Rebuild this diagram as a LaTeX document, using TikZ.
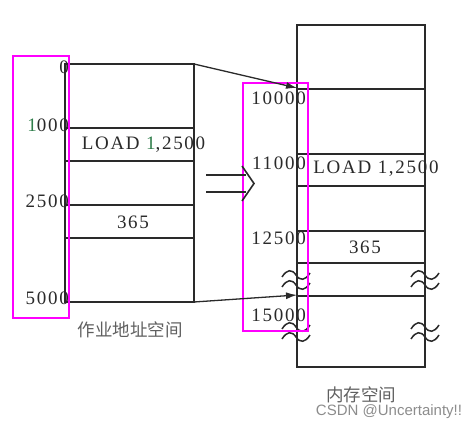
\documentclass[tikz,border=0pt]{standalone}
\usepackage{fontspec}
\setmainfont{Liberation Serif}
\newfontfamily\numfont[LetterSpace=9]{Liberation Serif}
\newfontfamily\cjk{Noto Sans CJK SC}
\newfontfamily\wmfont{Liberation Sans}
\usetikzlibrary{arrows.meta}
\definecolor{ln}{HTML}{2A2A2A}
\definecolor{tx}{HTML}{2A2A2A}
\definecolor{gn}{HTML}{2E7D4A}
\definecolor{mg}{HTML}{FF00FF}
\begin{document}
\begin{tikzpicture}[x=1pt,y=-1pt,
  boxline/.style={draw=ln,line width=1.9pt},
  addr/.style={anchor=east,inner sep=0pt,text=tx,font=\numfont\fontsize{19}{20}\selectfont},
  cell/.style={inner sep=0pt,text=tx,font=\numfont\fontsize{19}{20}\selectfont},
  magbox/.style={draw=mg,line width=1.3pt},
  link/.style={draw=ln,line width=1.3pt,-{Latex[length=11pt,width=7pt]}},
  captext/.style={inner sep=0pt,text=tx!75,font=\cjk\fontsize{17.5}{18}\selectfont},
  squig/.pic={\draw[ln,line width=1.5pt] (-14,2) .. controls (-9,-6) and (-4,-6) .. (0,0) .. controls (4,6) and (9,6) .. (14,-2);}
]
\useasboundingbox (0,0) rectangle (474,428);
% left box (job address space)
\coordinate (LTL) at (65,64);
\coordinate (LTR) at (194,64);
\coordinate (LBL) at (65,302);
\coordinate (LBR) at (194,302);
\draw[boxline] (LTL) rectangle (LBR);
\foreach \y in {128,161,205,238} \draw[boxline] (65,\y) -- (194,\y);
\node[addr] (a0) at (69,67) {0};
\node[addr] (a1000) at (69,125) {\textcolor{gn}{1}000};
\node[addr] (a2500) at (69,201) {2500};
\node[addr] (a5000) at (69,298) {5000};
\node[cell] (lload) at (143.5,145) {LOAD \textcolor{gn}{1},2500};
\node[cell] (l365) at (133,222) {365};
\node[captext] (lcap) at (130,330) {作业地址空间};
\draw[magbox] (13,56) rectangle (69,318);
% right box (memory space)
\coordinate (RTL) at (297,25);
\coordinate (RBR) at (425,367);
\draw[boxline] (RTL) rectangle (RBR);
\foreach \y in {89,154,186,231,263,296} \draw[boxline] (297,\y) -- (425,\y);
\coordinate (R10000) at (297,88);
\coordinate (R15000) at (297,295);
\node[addr] (b10000) at (306,98) {10000};
\node[addr] (b11000) at (306,163) {11000};
\node[addr] (b12500) at (306,238) {12500};
\node[addr] (b15000) at (306,315) {15000};
\node[cell] (rload) at (376,169) {LOAD 1,2500};
\node[cell] (r365) at (365,247) {365};
\node[captext] (rcap) at (361,395) {内存空间};
\foreach \x in {296,425} \foreach \y in {275,285,327,337} \pic at (\x,\y) {squig};
\draw[magbox] (243,83) rectangle (308,331);
% mapping arrows
\draw[link] (LTR) -- (R10000);
\draw[link] (LBR) -- (R15000);
% hollow double arrow
\draw[ln,line width=1.6pt] (206,175) -- (246,175) (206,192) -- (246,192);
\draw[ln,line width=1.6pt] (242,166) -- (254,183.5) -- (242,201);
% watermark
\node[inner sep=0pt,text=black!45,font=\wmfont\fontsize{15}{16}\selectfont] (wm) at (389,412) {CSDN @Uncertainty!!};
\end{tikzpicture}
\end{document}
